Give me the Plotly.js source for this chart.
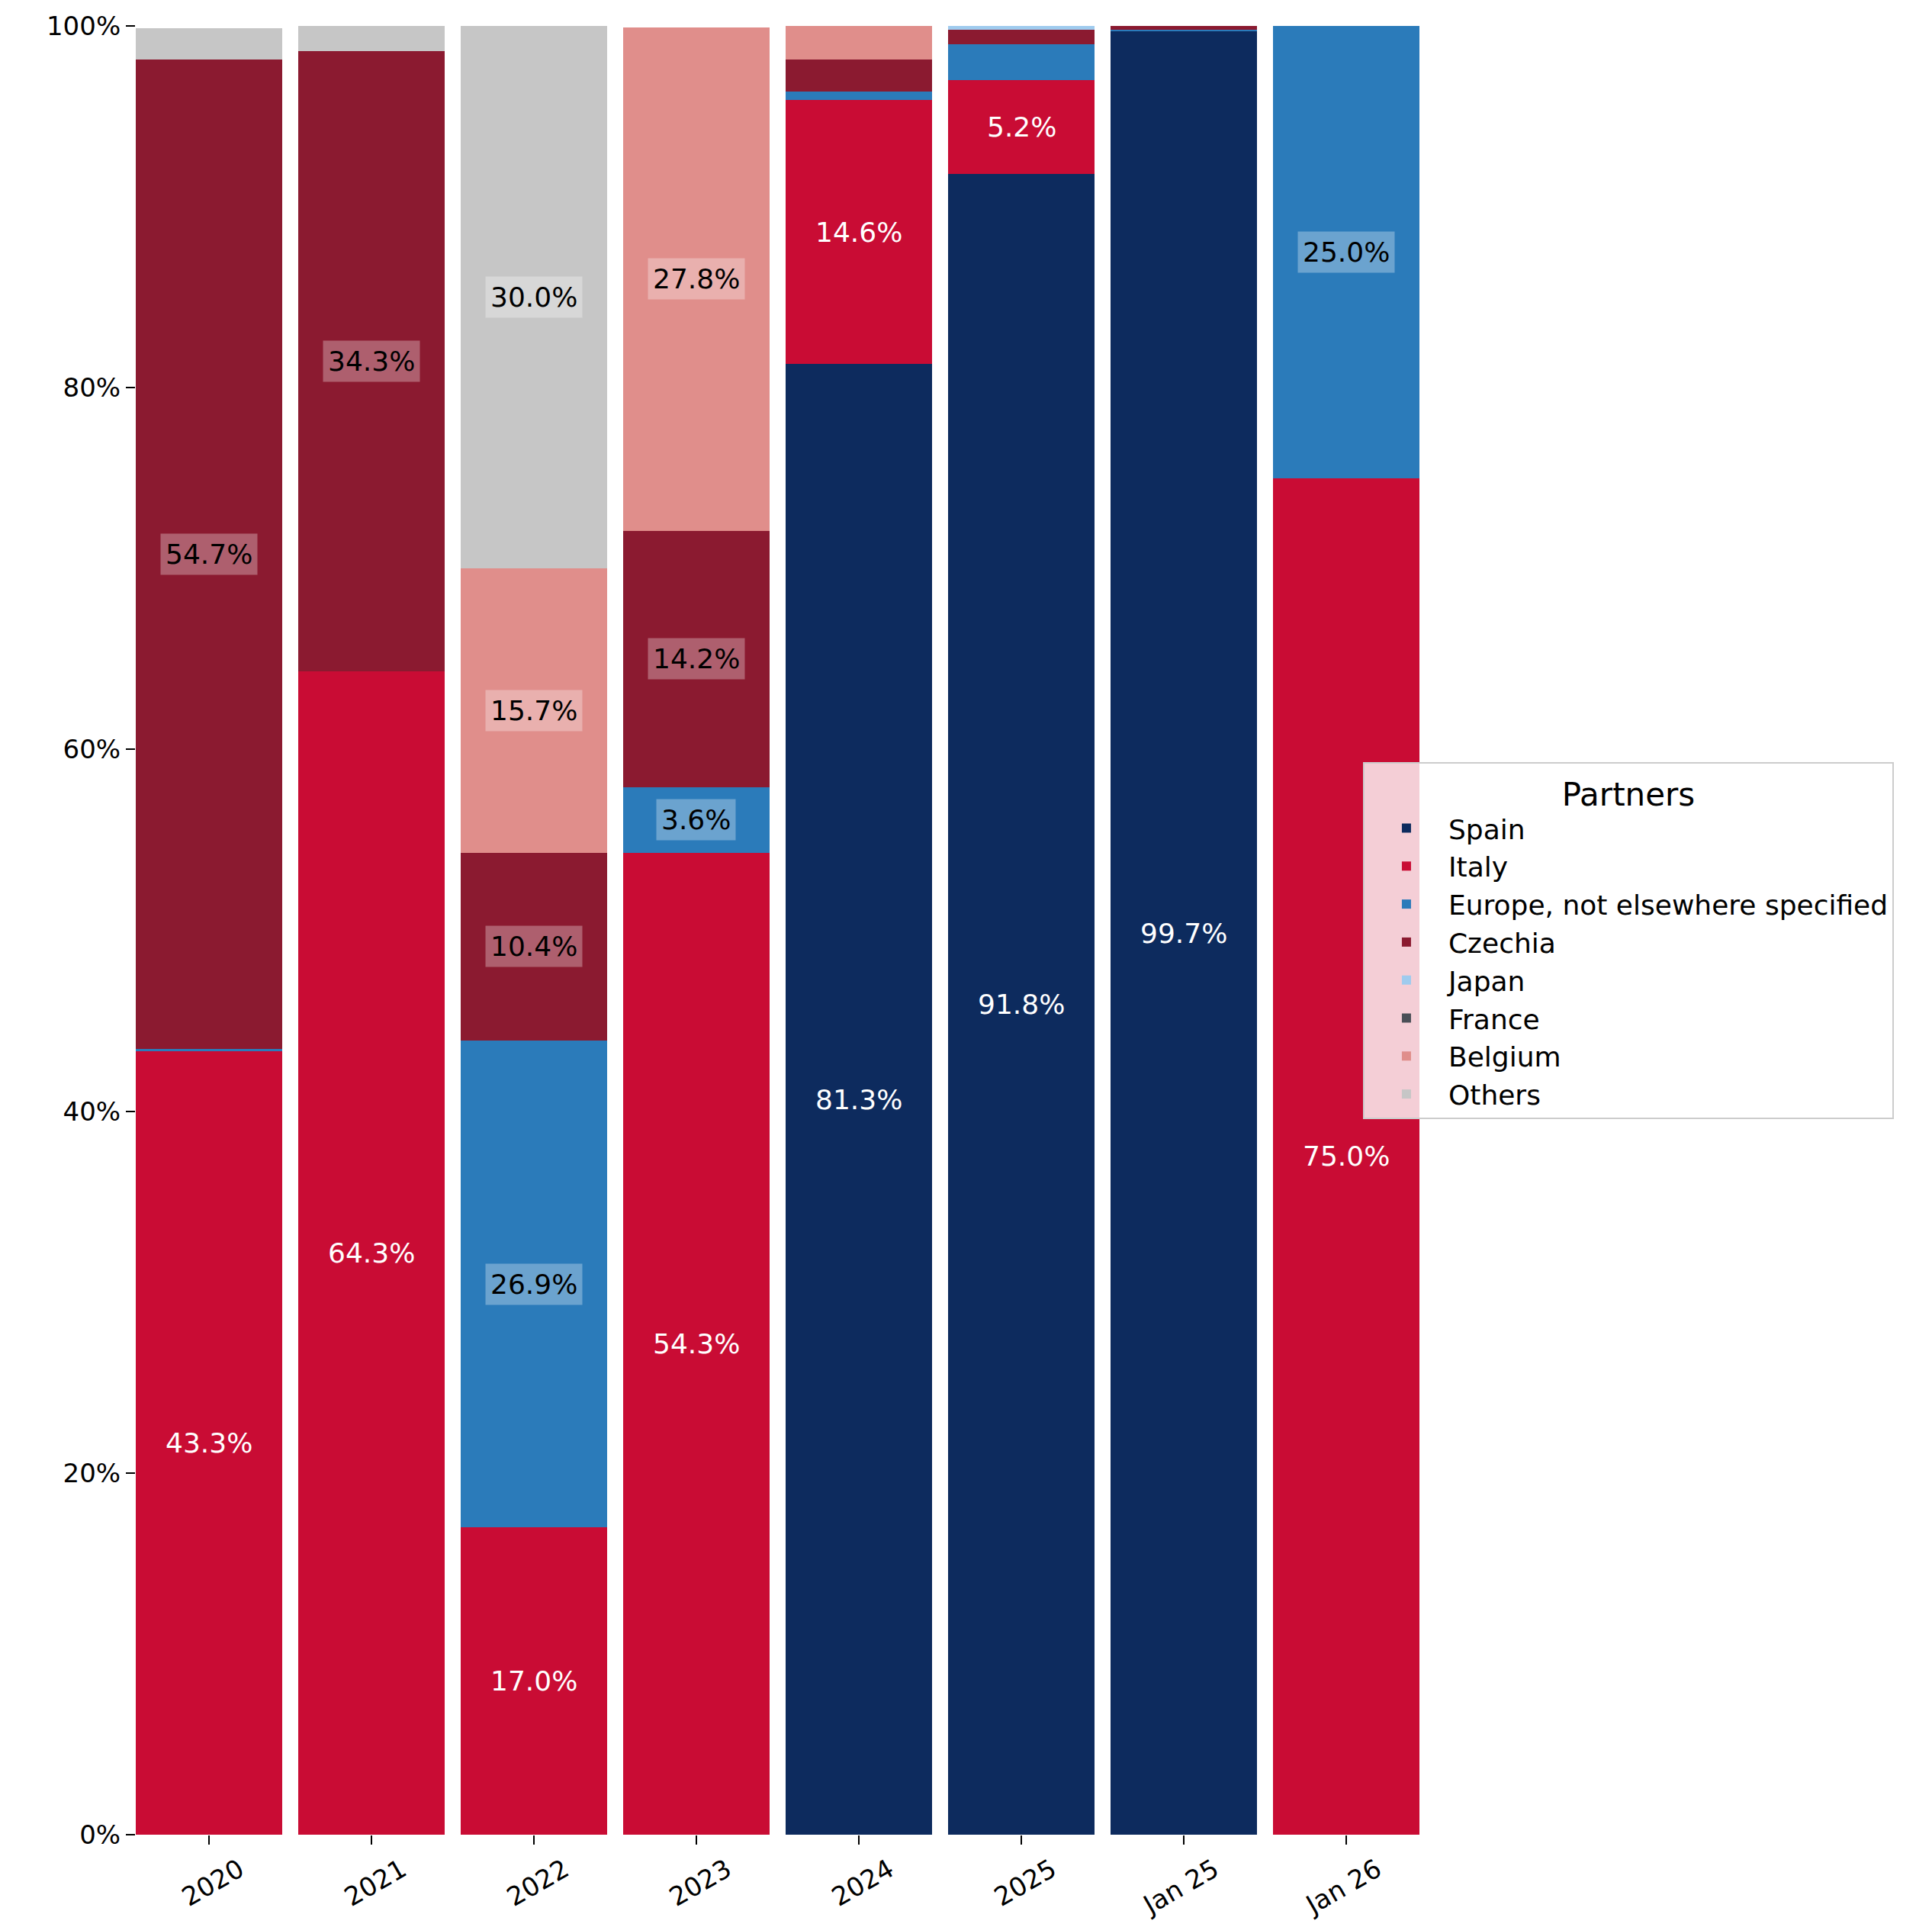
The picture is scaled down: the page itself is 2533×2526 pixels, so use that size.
<!DOCTYPE html>
<html>
<head>
<meta charset="utf-8">
<script src="https://cdn.plot.ly/plotly-3.0.1.min.js"></script>
<style>html,body{margin:0;padding:0;background:#fff;}#chart{width:2533px;height:2526px;}</style>
</head>
<body>
<div id="chart"></div>
<script>
// ---- Data (percent share of partners per period) ----
const categories = ["2020", "2021", "2022", "2023", "2024", "2025", "Jan 25", "Jan 26"];
const spain   = [0,     0,     0,    0,    81.3, 91.8, 99.7, 0];
const italy   = [43.3,  64.3,  17.0, 54.3, 14.6, 5.2,  0,    75.0];
const europe  = [0.13,  0,     26.9, 3.6,  0.46, 1.98, 0.08, 25.0];
const czechia = [54.7,  34.3,  10.4, 14.2, 1.8,  0.8,  0.3,  0];
const japan   = [0,     0,     0,    0,    0,    0.2,  0,    0];
const france  = [0,     0,     0,    0,    0,    0,    0,    0];
const belgium = [0,     0,     15.7, 27.8, 1.84, 0,    0,    0];
const others  = [1.75,  1.4,   30.0, 0,    0,    0,    0,    0];

const seriesNames = ["Spain", "Italy", "Europe, not elsewhere specified", "Czechia", "Japan", "France", "Belgium", "Others"];
const seriesValues = [spain, italy, europe, czechia, japan, france, belgium, others];

// ---- Styles ----
const colors = ["#0d2b5e", "#c90c34", "#2b7bba", "#8b1a30", "#9fcbee", "#4a4f57", "#e08e8b", "#c6c6c6"];
const lightLabel = [true, true, false, false, false, false, false, false];
const FONT = "DejaVu Sans, Liberation Sans, sans-serif";

const traces = seriesNames.map((name, i) => ({
  type: "bar",
  name: name,
  x: categories,
  y: seriesValues[i],
  marker: {color: colors[i], line: {width: 0}},
  hoverinfo: "skip"
}));

// Labels at segment centres (x given as category index on the category axis)
const annotations = [];
const base = categories.map(() => 0);
seriesValues.forEach((vals, i) => {
  vals.forEach((v, j) => {
    if (v >= 2.5) {
      const ann = {
        x: j, y: base[j] + v / 2, xref: "x", yref: "y",
        text: v.toFixed(1) + "%", showarrow: false,
        font: {family: FONT, size: 36, color: lightLabel[i] ? "#ffffff" : "#000000"}
      };
      if (!lightLabel[i]) {
        ann.bgcolor = "rgba(255,255,255,0.3)";
        ann.borderpad = 6;
      }
      annotations.push(ann);
    }
    base[j] += v;
  });
});

const layout = {
  width: 2533, height: 2526,
  paper_bgcolor: "#ffffff", plot_bgcolor: "#ffffff",
  margin: {l: 178, r: 672, t: 34, b: 121, pad: 0},
  barmode: "stack",
  bargap: 0.1,
  font: {family: FONT, size: 34, color: "#000"},
  xaxis: {
    type: "category",
    range: [-0.45, 7.45],
    showgrid: false, zeroline: false, showline: false,
    ticks: "outside", ticklen: 12, tickwidth: 2, tickcolor: "#000",
    tickangle: -30,
    ticklabelshift: 40,
    tickfont: {family: FONT, size: 34, color: "#000"}
  },
  yaxis: {
    range: [0, 100],
    tickvals: [0, 20, 40, 60, 80, 100],
    ticktext: ["0%", "20%", "40%", "60%", "80%", "100%"],
    showgrid: false, zeroline: false, showline: false,
    ticks: "outside", ticklen: 12, tickwidth: 2, tickcolor: "#000",
    tickfont: {family: FONT, size: 34, color: "#000"}
  },
  legend: {
    x: 0.956, y: 0.593, xanchor: "left", yanchor: "top",
    traceorder: "normal",
    bgcolor: "rgba(255,255,255,0.8)",
    bordercolor: "#cccccc", borderwidth: 2,
    font: {family: FONT, size: 36, color: "#000"},
    title: {text: "Partners", side: "top center", font: {family: FONT, size: 42, color: "#000"}},
    itemwidth: 100
  },
  annotations: annotations,
  showlegend: true
};

Plotly.newPlot("chart", traces, layout, {displayModeBar: false, staticPlot: true});
</script>
</body>
</html>
